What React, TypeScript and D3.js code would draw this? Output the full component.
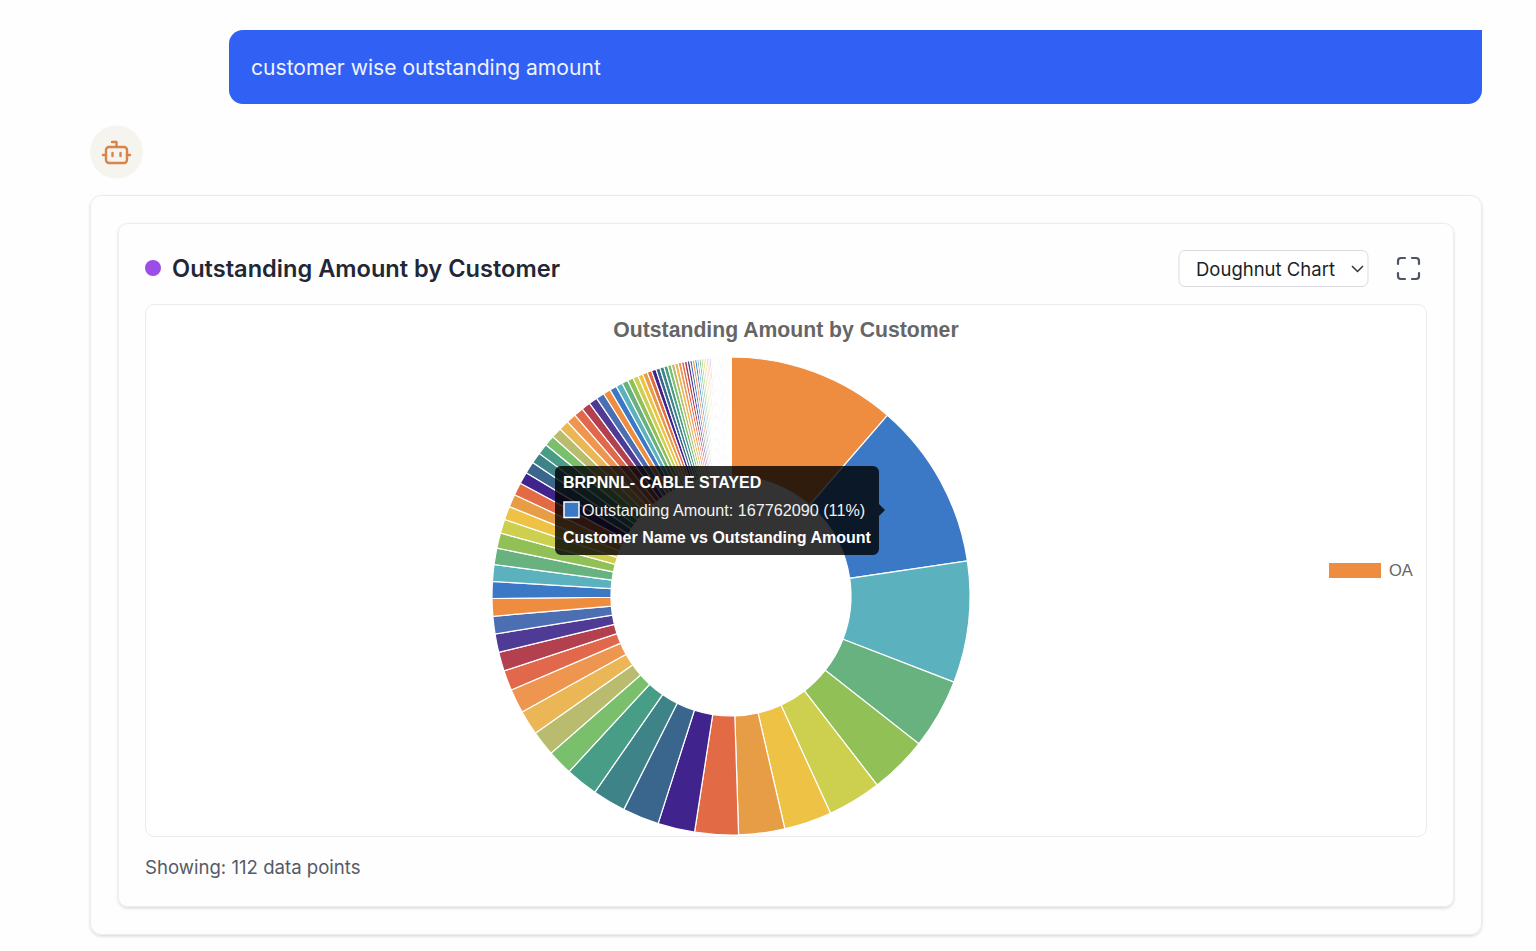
import * as d3 from "d3";

const WIDTH = 1536;
const HEIGHT = 951;

const chartTitle = "Outstanding Amount by Customer";
const legendLabel = "OA";
const tooltipName = "BRPNNL- CABLE STAYED";
const tooltipValue = "Outstanding Amount: 167762090 (11%)";
const tooltipFooter = "Customer Name vs Outstanding Amount";

// Outstanding amounts, largest first
const amounts = [
  168600000, 167762090, 122000000, 70500000, 58100000, 54000000, 47800000, 46200000,
  43700000, 37100000, 36700000, 33400000, 32600000, 25600000, 25200000, 24700000,
  24300000, 20200000, 19000000, 18500000, 17700000, 17600000, 16900000, 16800000,
  16500000, 15300000, 14000000, 13600000, 12800000, 12700000, 12000000, 11900000,
  11100000, 10700000, 10600000, 10400000, 10200000, 9900000, 9500000, 9100000,
  8660000, 8240000, 7420000, 7000000, 6600000, 6180000, 5770000, 5360000,
  4950000, 4900000, 4530000, 4500000, 4120000, 4100000, 3900000, 3700000,
  3500000, 3480000, 3300000, 2900000, 2880000, 2680000, 2470000, 2450000,
  2270000, 2060000, 2050000, 1850000, 1830000, 1650000, 1630000, 1440000,
  1420000, 1240000, 1220000, 1200000, 1150000, 1070000, 990000, 910000,
  820000, 820000, 740000, 740000, 660000, 660000, 620000, 580000, 540000,
  490000, 490000, 450000, 410000, 410000, 370000, 370000, 330000, 330000,
  290000, 290000, 250000, 250000, 210000, 210000, 160000, 160000, 120000,
  120000, 80000, 80000, 40000, 40000,
];

const palette = [
  "#ee8c3f", "#3b79c6", "#5bb1bd", "#67b27e", "#90c056", "#cdd04e", "#edc245",
  "#e79d46", "#e26a45", "#40238c", "#3a668e", "#3d8388", "#479d86", "#7abf6b",
  "#b9bc6e", "#ebb655", "#ee9650", "#e2684b", "#b3404e", "#4f3a96", "#4c6fb4",
];

const cx = 731;
const cy = 596;
const outerR = 239;
const innerR = 120;

export default function App() {
  const pie = d3.pie<number>().sort(null).value((d) => d);
  const arc = d3.arc<d3.PieArcDatum<number>>().innerRadius(innerR).outerRadius(outerR);
  const slices = pie(amounts);

  const inter = "Inter, sans-serif";
  const helv = "'Liberation Sans', Arial, sans-serif";

  return (
    <svg
      width={WIDTH}
      height={HEIGHT}
      viewBox={`0 0 ${WIDTH} ${HEIGHT}`}
      style={{ position: "absolute", left: 0, top: 0, display: "block" }}
    >
      <defs>
        <filter id="cardShadow" x="-2%" y="-2%" width="104%" height="104%">
          <feDropShadow dx="0" dy="1.5" stdDeviation="1.5" floodColor="#000" floodOpacity="0.14" />
        </filter>
      </defs>
      <rect width={WIDTH} height={HEIGHT} fill="#fefefe" />

      {/* prompt bubble */}
      <path
        d="M243 30H1482V90a14 14 0 0 1 -14 14H243a14 14 0 0 1 -14 -14V44a14 14 0 0 1 14 -14Z"
        fill="#3160f5"
      />
      <text x={251} y={75} fontFamily={inter} fontSize={21.1} fill="#f0f3ff">
        customer wise outstanding amount
      </text>

      {/* bot avatar */}
      <circle cx={116.5} cy={152} r={26.5} fill="#f5f4ee" />
      <g fill="none" stroke="#d9824a" strokeWidth={2.4} strokeLinecap="round" strokeLinejoin="round">
        <rect x={106} y={147} width={21} height={16} rx={3} />
        <path d="M116.5 147V142H112" />
        <path d="M103 155H106M127 155H130" />
        <path d="M112.5 153V156M120.5 153V156" />
      </g>

      {/* cards */}
      <rect x={90.5} y={195.5} width={1391} height={739} rx={11} fill="#fefefe" stroke="#ececec" filter="url(#cardShadow)" />
      <rect x={118.5} y={223.5} width={1335} height={683} rx={9} fill="#fefefe" stroke="#ededed" filter="url(#cardShadow)" />

      <circle cx={153} cy={268} r={8} fill="#9b4de8" />
      <text x={172} y={277} fontFamily={inter} fontSize={23.6} fontWeight={600} fill="#222736">
        {chartTitle}
      </text>

      {/* chart type dropdown */}
      <rect x={1179} y={250.5} width={189} height={36} rx={6} fill="#fff" stroke="#d9dbe0" />
      <text x={1196} y={275.5} fontFamily={inter} fontSize={18.5} fill="#1b1f2a">
        Doughnut Chart
      </text>
      <path d="M1352 266L1357.5 271.5L1363 266" fill="none" stroke="#333" strokeWidth={1.5} />

      {/* fullscreen icon */}
      <path
        d="M1398 264V261a3 3 0 0 1 3 -3H1405M1412 258H1416a3 3 0 0 1 3 3V264M1419 273V276a3 3 0 0 1 -3 3H1412M1405 279H1401a3 3 0 0 1 -3 -3V273"
        fill="none"
        stroke="#4b5563"
        strokeWidth={2.2}
        strokeLinecap="round"
      />

      <rect x={145.5} y={304.5} width={1281} height={532} rx={9} fill="#fff" stroke="#ebebed" />
      <text x={786} y={337} textAnchor="middle" fontFamily={helv} fontSize={21.2} fontWeight={700} fill="#666">
        {chartTitle}
      </text>

      {/* doughnut */}
      <g transform={`translate(${cx},${cy})`}>
        {slices.map((s, i) => (
          <path
            key={i}
            d={arc(s) ?? undefined}
            fill={palette[i % palette.length]}
            stroke="#fff"
            strokeWidth={1.2}
          />
        ))}
      </g>

      {/* legend */}
      <rect x={1329} y={563} width={52} height={15} fill={palette[0]} />
      <text x={1389} y={576} fontFamily={helv} fontSize={16.5} fill="#666">
        {legendLabel}
      </text>

      {/* tooltip */}
      <path
        d="M561 466H873a6 6 0 0 1 6 6V504L885 510L879 516V549a6 6 0 0 1 -6 6H561a6 6 0 0 1 -6 -6V472a6 6 0 0 1 6 -6Z"
        fill="#000"
        fillOpacity={0.8}
      />
      <text x={563} y={488} fontFamily={helv} fontSize={16} fontWeight={700} fill="#fff">
        {tooltipName}
      </text>
      <rect x={564} y={502} width={15} height={15.5} fill={palette[1]} stroke="#fff" strokeWidth={1.5} />
      <text x={582} y={515.5} fontFamily={helv} fontSize={16.2} fill="#f2f2f2">
        {tooltipValue}
      </text>
      <text x={563} y={542.5} fontFamily={helv} fontSize={16} fontWeight={700} fill="#fff">
        {tooltipFooter}
      </text>

      <text x={145} y={874} fontFamily={inter} fontSize={18.6} fill="#555b66">
        Showing: {amounts.length} data points
      </text>
    </svg>
  );
}
